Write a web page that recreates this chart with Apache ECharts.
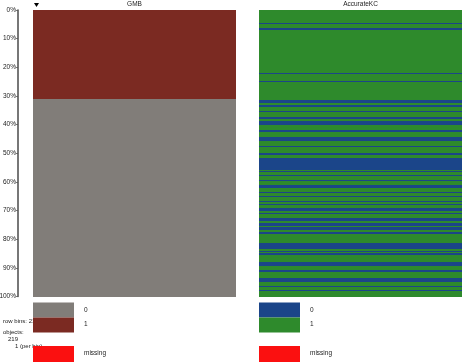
<!DOCTYPE html>
<html>
<head>
<meta charset="utf-8">
<script src="https://cdn.jsdelivr.net/npm/echarts@6/dist/echarts.min.js"></script>
<style>
html,body{margin:0;padding:0;background:#fff;}
#c{width:474px;height:362px;}
</style>
</head>
<body>
<div id="c"></div>
<script>
// ---- data ----
const columnNames = ['GMB', 'AccurateKC'];
const levelLabels = ['0', '1'];
const percentTicks = [0, 10, 20, 30, 40, 50, 60, 70, 80, 90, 100];
const objectCount = 219;
const rowBins = 219;

// one object per row bin; value of the variable in each bin (sorted by GMB, descending)
const gmbValues = [
  1,1,1,1,1,1,1,1,1,1, 1,1,1,1,1,1,1,1,1,1,
  1,1,1,1,1,1,1,1,1,1, 1,1,1,1,1,1,1,1,1,1,
  1,1,1,1,1,1,1,1,1,1, 1,1,1,1,1,1,1,1,1,1,
  1,1,1,1,1,1,1,1,0,0, 0,0,0,0,0,0,0,0,0,0,
  0,0,0,0,0,0,0,0,0,0, 0,0,0,0,0,0,0,0,0,0,
  0,0,0,0,0,0,0,0,0,0, 0,0,0,0,0,0,0,0,0,0,
  0,0,0,0,0,0,0,0,0,0, 0,0,0,0,0,0,0,0,0,0,
  0,0,0,0,0,0,0,0,0,0, 0,0,0,0,0,0,0,0,0,0,
  0,0,0,0,0,0,0,0,0,0, 0,0,0,0,0,0,0,0,0,0,
  0,0,0,0,0,0,0,0,0,0, 0,0,0,0,0,0,0,0,0,0,
  0,0,0,0,0,0,0,0,0,0, 0,0,0,0,0,0,0,0,0
];
const accurateKCValues = [
  1,1,1,1,1,1,1,1,1,1,
  0,1,1,1,0,1,1,1,1,1,
  1,1,1,1,1,1,1,1,1,1,
  1,1,1,1,1,1,1,1,1,1,
  1,1,1,1,1,1,1,1,0,1,
  1,1,1,1,0,1,1,1,1,1,
  1,1,1,1,1,1,1,1,1,0,
  0,1,1,0,1,1,1,0,1,1,
  1,1,0,1,1,0,0,0,1,1,
  1,1,0,1,1,1,1,0,0,0,
  1,1,1,1,0,1,1,1,1,0,
  0,1,1,0,0,0,0,0,0,0,
  0,0,1,0,1,1,0,1,1,1,
  0,1,1,1,0,0,1,1,1,0,
  1,1,0,1,1,1,0,1,0,1,
  1,0,0,0,1,0,1,1,1,0,
  0,1,1,0,0,1,0,0,1,1,
  0,1,1,1,1,1,1,1,0,0,
  0,0,0,1,0,1,0,1,1,1,
  1,1,1,0,0,0,1,1,1,0,
  1,1,1,1,1,0,0,0,1,1,
  1,0,1,1,0,1,1,1,1
];

// ---- styling ----
const gmbColors = {'0': '#817d79', '1': '#7b2a22'};
const kcColors = {'0': '#1b4589', '1': '#2e8a2c'};
const missingColor = '#fb1010';
const FONT = 'Liberation Sans, Arial, sans-serif';

const plotTop = 10, plotBottom = 296.5, plotH = plotBottom - plotTop;
const cols = [
  {name: columnNames[0], values: gmbValues, colors: gmbColors, left: 33, width: 203},
  {name: columnNames[1], values: accurateKCValues, colors: kcColors, left: 259, width: 203}
];

const rowIdx = gmbValues.map((_, i) => i);

const grids = [], xAxes = [], yAxes = [], series = [];
// percentage axis grid
grids.push({left: 17, top: plotTop, width: 1, height: plotH});
xAxes.push({gridIndex: 0, type: 'value', show: false, min: 0, max: 1});
yAxes.push({
  gridIndex: 0, type: 'value', min: percentTicks[0], max: percentTicks[percentTicks.length - 1], interval: 10, inverse: true,
  axisLine: {show: true, lineStyle: {color: '#555', width: 1.6}},
  axisTick: {show: true, length: 2, lineStyle: {color: '#555', width: 0.8}},
  splitLine: {show: false},
  axisLabel: {formatter: v => v + '%', fontSize: 6.5, color: '#222', fontFamily: FONT, margin: 2}
});

cols.forEach((c, k) => {
  const gi = k + 1;
  grids.push({left: c.left, top: plotTop, width: c.width, height: plotH});
  xAxes.push({gridIndex: gi, type: 'value', min: 0, max: 1, show: false});
  yAxes.push({gridIndex: gi, type: 'category', data: rowIdx, inverse: true, show: false, boundaryGap: true});
  series.push({
    type: 'custom', xAxisIndex: gi, yAxisIndex: gi, name: c.name, silent: true, animation: false,
    data: c.values.map((v, i) => [i, v]),
    encode: {y: 0, x: 1},
    renderItem: function (params, api) {
      const row = api.value(0);
      const lv = String(api.value(1));
      const p = api.coord([0, row]);
      const p1 = api.coord([1, row]);
      const h = api.size([0, 1])[1];
      const y0 = Math.round(p[1] - h / 2), y1 = Math.round(p[1] + h / 2);
      return {
        type: 'rect',
        shape: {x: p[0], y: y0, width: p1[0] - p[0], height: Math.max(1, y1 - y0)},
        style: {fill: c.colors[lv]}
      };
    }
  });
});

// legend / annotation graphics
const graphic = [];
// sort indicator
graphic.push({type: 'polygon', shape: {points: [[34, 3], [39, 3], [36.5, 7]]}, style: {fill: '#000'}});
cols.forEach(c => {
  graphic.push({type: 'text', x: c.left + c.width / 2, y: 4.5,
    style: {text: c.name, fontSize: 6.5, fill: '#222', fontFamily: FONT, align: 'center', verticalAlign: 'middle'}});
});
// left info text (partly hidden by legend boxes)
const info = [['row bins: ' + rowBins, 3, 321.5], ['objects:', 3, 332], [String(objectCount), 8, 339], ['1 (per bin)', 15, 346]];
info.forEach(t => graphic.push({type: 'text', x: t[1], y: t[2], z: 1,
  style: {text: t[0], fontSize: 6, fill: '#222', fontFamily: FONT, verticalAlign: 'middle'}}));
cols.forEach(c => {
  const bx = c.left, bw = 41;
  levelLabels.forEach((lv, j) => {
    graphic.push({type: 'rect', z: 10, shape: {x: bx, y: 302.5 + j * 15, width: bw, height: 15}, style: {fill: c.colors[lv]}});
    graphic.push({type: 'text', z: 10, x: bx + 51, y: 310 + j * 14.3,
      style: {text: lv, fontSize: 6.5, fill: '#222', fontFamily: FONT, verticalAlign: 'middle'}});
  });
  graphic.push({type: 'rect', z: 10, shape: {x: bx, y: 346, width: bw, height: 18}, style: {fill: missingColor}});
  graphic.push({type: 'text', z: 10, x: bx + 51, y: 353,
    style: {text: 'missing', fontSize: 6.5, fill: '#222', fontFamily: FONT, verticalAlign: 'middle'}});
});

const chart = echarts.init(document.getElementById('c'), null, {renderer: 'canvas'});
chart.setOption({
  animation: false,
  backgroundColor: '#fff',
  grid: grids, xAxis: xAxes, yAxis: yAxes, series: series, graphic: graphic
});
</script>
</body>
</html>
